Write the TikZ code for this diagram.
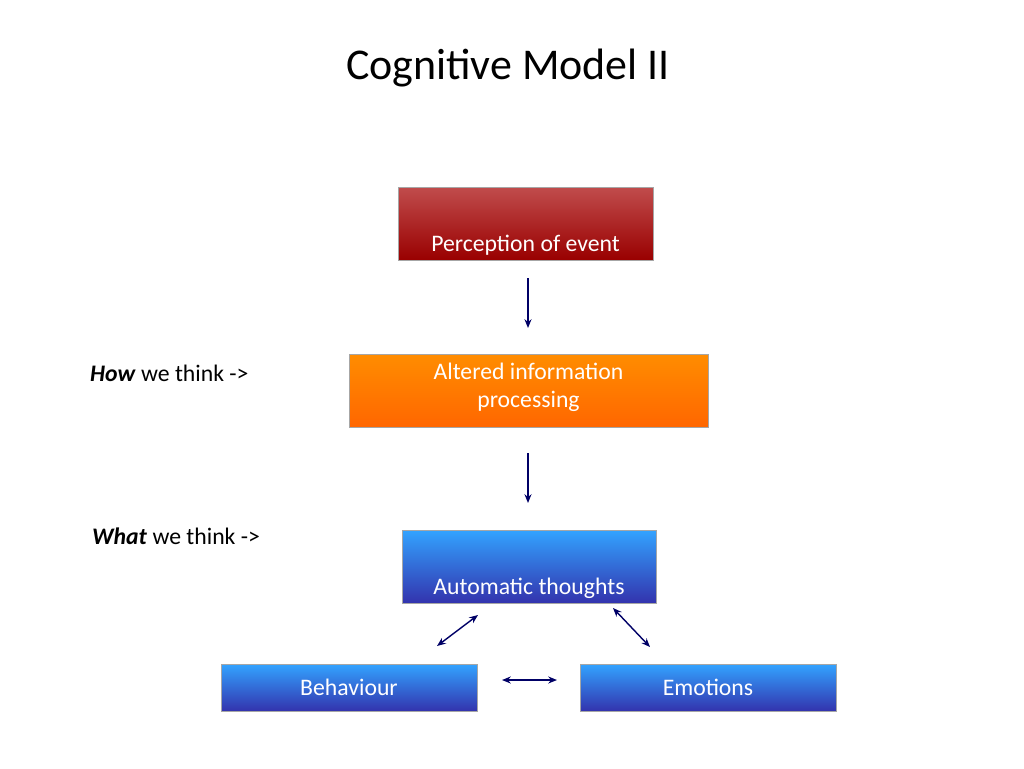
\documentclass[tikz,border=0pt]{standalone}
\usepackage{fontspec}
\setmainfont{Carlito}
\usetikzlibrary{positioning,arrows.meta}

\begin{document}
\begin{tikzpicture}[x=0.02cm,y=-0.02cm,
                    link/.style={-{Stealth[length=5pt,width=4pt]},draw=blue!40!black,thick},
                    dlink/.style={{Stealth[length=5pt,width=4pt]}-{Stealth[length=5pt,width=4pt]},draw=blue!40!black,thick},
                    every text node part/.style={align=center}]
  \tikzset{box/.style={draw=gray!70,minimum height=1.46cm,text=white,
                       font=\fontsize{13.5}{16}\selectfont,text depth=0pt},
           lowbox/.style={draw=gray!70,minimum height=0.94cm,text=white,
                       font=\fontsize{13.5}{16}\selectfont}}
  \useasboundingbox (0,0) rectangle (1024,768);

  \node (title) at (508,68) {\fontsize{25}{30}\selectfont Cognitive Model II};

  % boxes
  \node[box,minimum width=5.1cm,top color=red!65!black!70,bottom color=red!60!black,
        text height=1.1cm] (percept) at (525.5,223.5) {Perception of event};
  \node[box,minimum width=7.18cm,top color=orange!90!yellow,bottom color=orange!80!red,
        text height=0.65cm] (altered) at (528.5,391) {Altered information\\processing};
  \node[box,minimum width=5.08cm,top color=blue!45!cyan!80,bottom color=blue!60!black!80,
        text height=1.1cm] (auto) at (529,566.5) {Automatic thoughts};
  \node[lowbox,minimum width=5.12cm,top color=blue!45!cyan!80,bottom color=blue!60!black!80]
        (behav) at (349,687.5) {Behaviour};
  \node[lowbox,minimum width=5.12cm,top color=blue!45!cyan!80,bottom color=blue!60!black!80]
        (emot) at (708,687.5) {Emotions};

  % side labels
  \node[anchor=west,font=\fontsize{13.5}{16}\selectfont] (how) at (84,373)
        {\textbf{\textit{How}} we think ->};
  \node[anchor=west,font=\fontsize{13.5}{16}\selectfont] (what) at (86,536)
        {\textbf{\textit{What}} we think ->};

  % arrows
  \coordinate (a1) at (528,278); \coordinate (a2) at (528,328);
  \coordinate (b1) at (528,453); \coordinate (b2) at (528,503);
  \coordinate (c1) at (437,646); \coordinate (c2) at (478,615);
  \coordinate (d1) at (613,608); \coordinate (d2) at (650,647);
  \coordinate (e1) at (502,680); \coordinate (e2) at (557,680);
  \draw[link] (a1) -- (a2);
  \draw[link] (b1) -- (b2);
  \draw[dlink] (c1) -- (c2);
  \draw[dlink] (d1) -- (d2);
  \draw[dlink] (e1) -- (e2);
\end{tikzpicture}
\end{document}
